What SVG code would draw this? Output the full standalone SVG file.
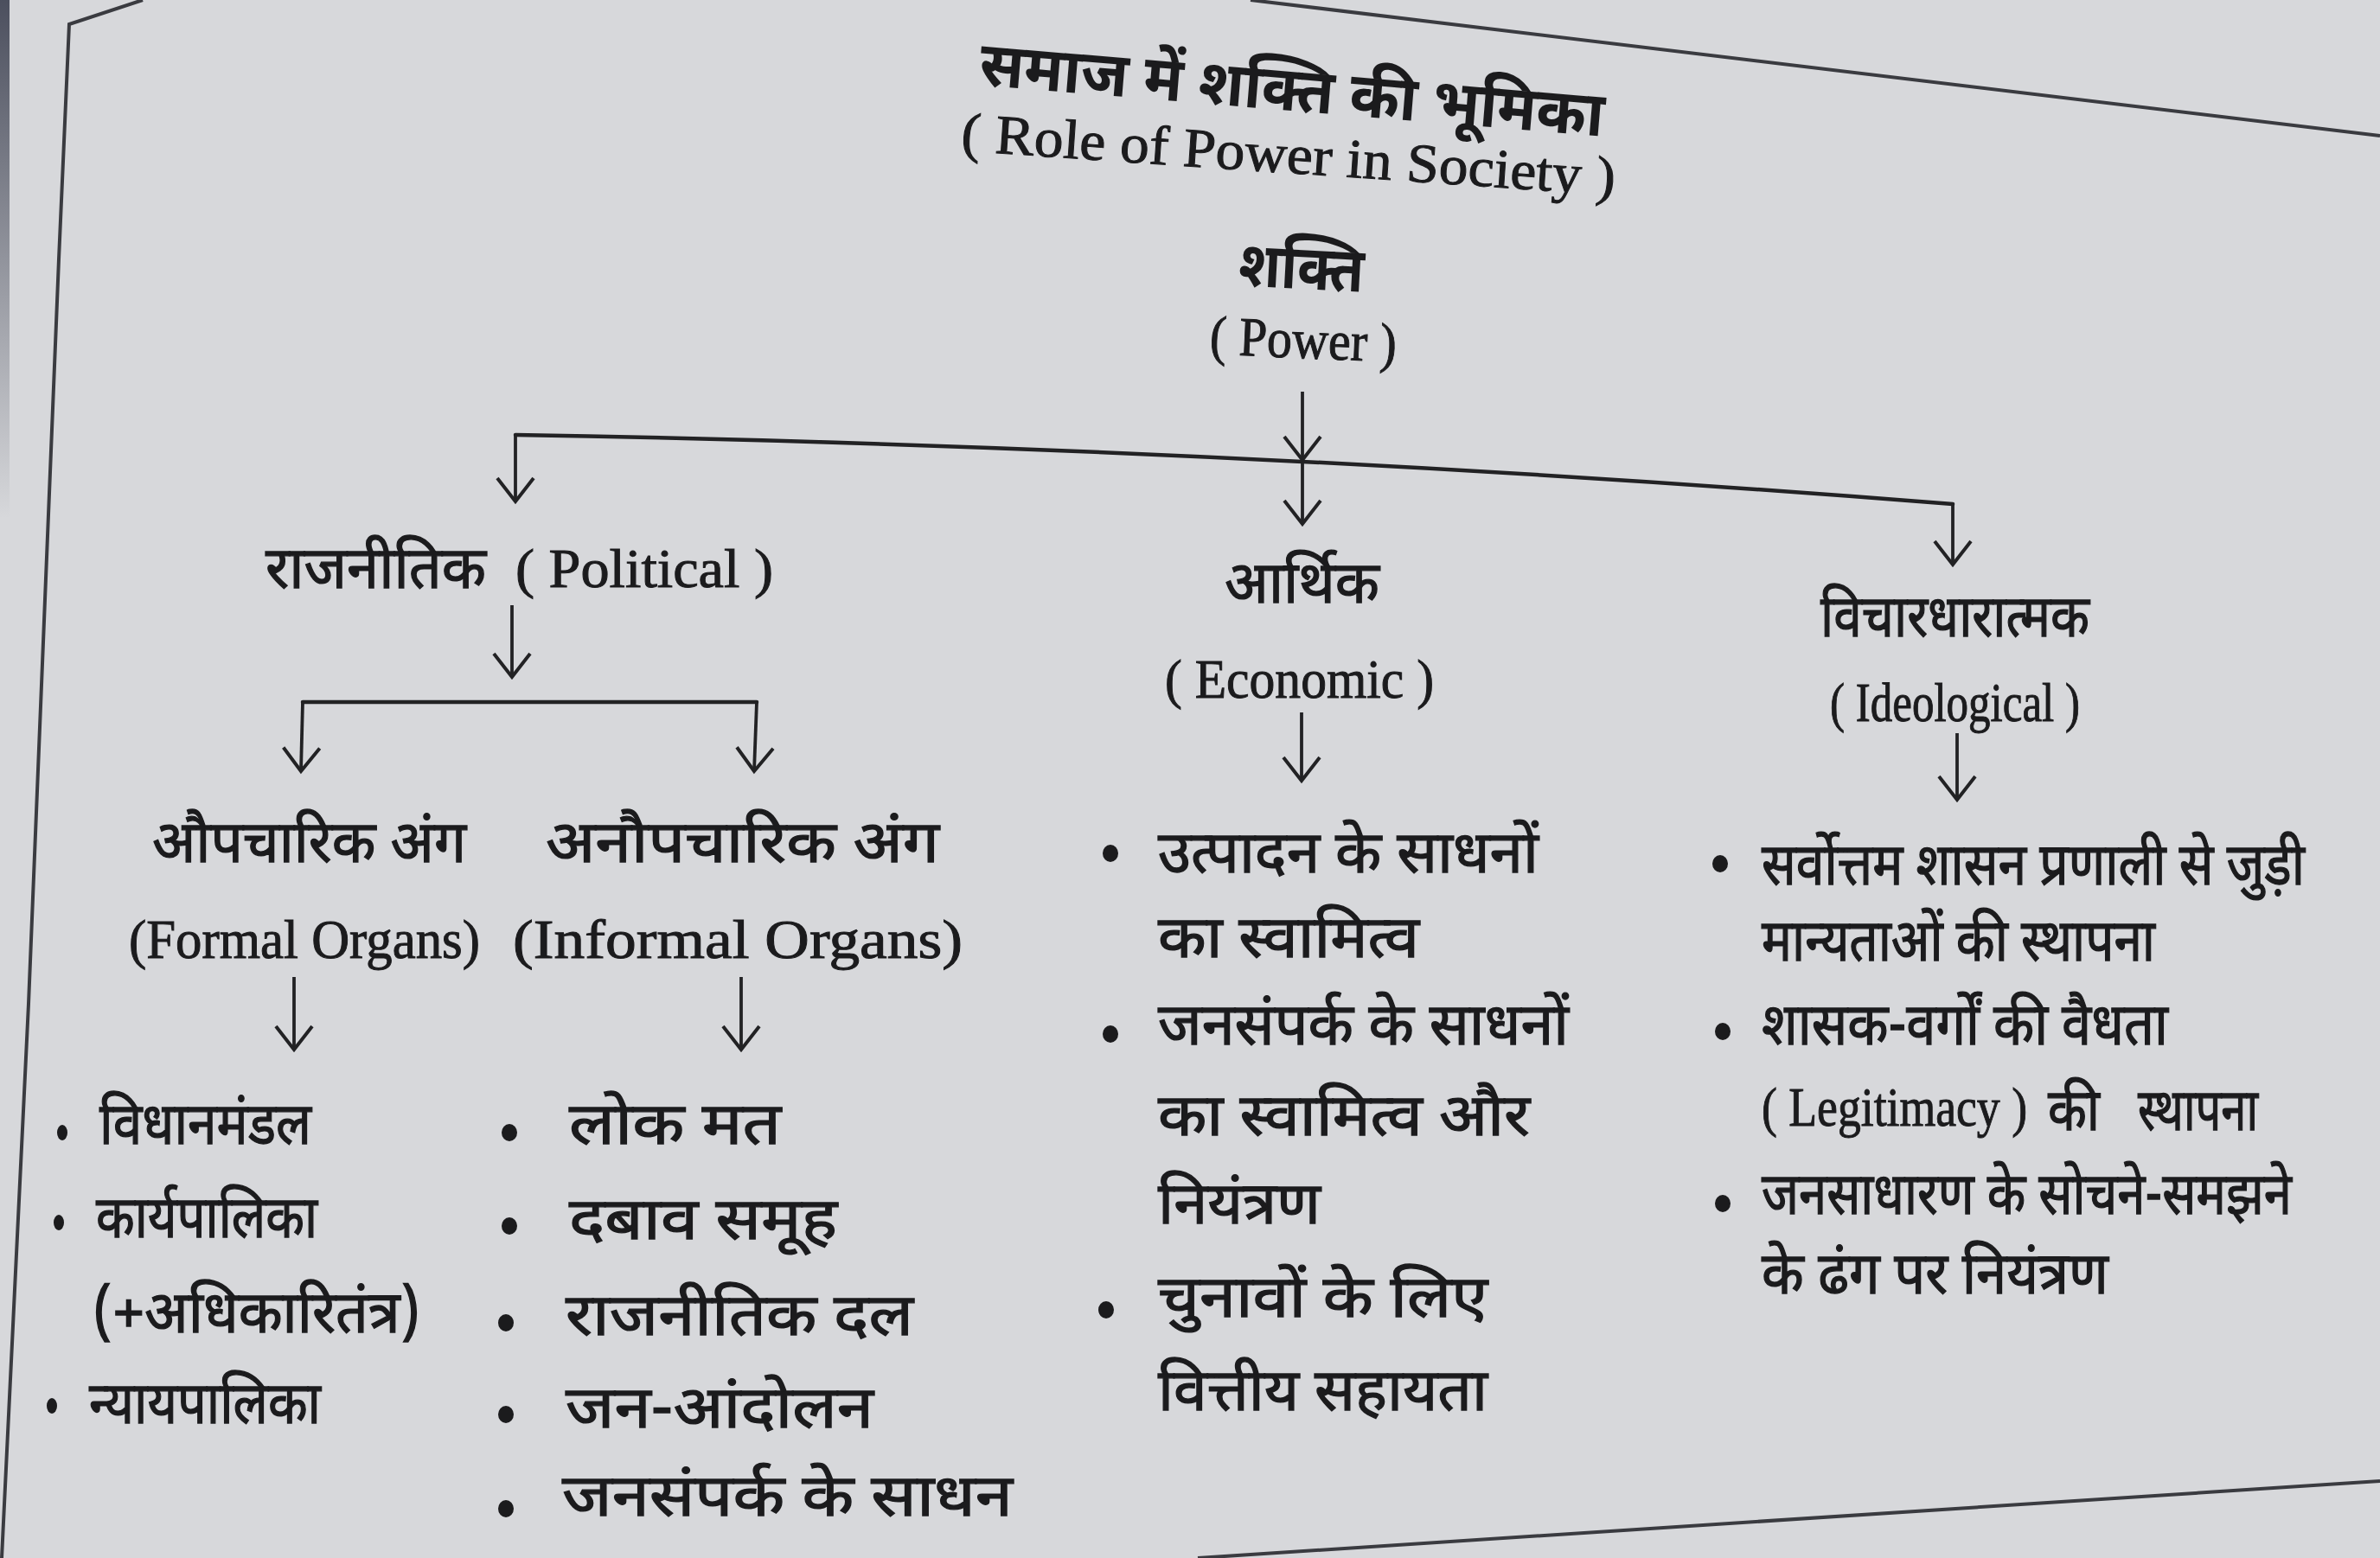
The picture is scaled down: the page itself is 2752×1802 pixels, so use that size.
<svg xmlns="http://www.w3.org/2000/svg" width="2752" height="1802" viewBox="0 0 2752 1802">
<defs>
<style>
.dv{font-family:"Noto Sans Devanagari","Lohit Devanagari","Noto Sans",sans-serif;fill:#1b1b1d;stroke:#1b1b1d;stroke-width:1.3px;font-size:68px}
.dvb{font-family:"Noto Sans Devanagari","Lohit Devanagari","Noto Sans",sans-serif;fill:#1b1b1d;font-weight:bold;font-size:72px}
.en{font-family:"Liberation Serif","Times New Roman",serif;fill:#1b1b1d;stroke:#1b1b1d;stroke-width:1px;font-size:64px}
.ln{fill:none;stroke:#222224;stroke-width:4.5;stroke-linecap:round}
.ar{fill:none;stroke:#222224;stroke-width:3.8;marker-end:url(#ah)}
.bl{fill:#1b1b1d}
.edge{fill:none;stroke:#3a3b40;stroke-width:4}
</style>
<marker id="ah" markerUnits="userSpaceOnUse" orient="auto" markerWidth="60" markerHeight="60" refX="0" refY="0" viewBox="-40 -30 50 60" overflow="visible">
<path d="M-27,-21 L0,0 L-27,21" fill="none" stroke="#222224" stroke-width="4" stroke-linejoin="miter"/>
</marker>
<linearGradient id="strip" x1="0" y1="0" x2="0" y2="1">
<stop offset="0" stop-color="#3c4050" stop-opacity="0.9"/>
<stop offset="1" stop-color="#3c4050" stop-opacity="0"/>
</linearGradient>
</defs>
<rect x="0" y="0" width="2752" height="1802" fill="#d7d8db"/>
<g id="page-edges">
<rect x="0" y="0" width="11" height="600" fill="url(#strip)"/>
<polyline class="edge" points="165,0 80,28 68,300 33,1161 2,1802" stroke-width="3" stroke="#55565c"/>
<line class="edge" x1="1446" y1="0" x2="2752" y2="157" stroke-width="5"/>
<line class="edge" x1="1385" y1="1802" x2="2752" y2="1713" stroke-width="5"/>
</g>

<g id="title">
<text class="dvb" x="1494" y="128" text-anchor="middle" textLength="724" lengthAdjust="spacingAndGlyphs" transform="rotate(4.7 1494 105)">समाज में शक्ति की भूमिका</text>
<text class="en" x="1490" y="200" text-anchor="middle" font-size="59" textLength="758" lengthAdjust="spacingAndGlyphs" transform="rotate(3.9 1490 180)">( Role of Power in Society )</text>
</g>

<g id="node-power">
<text class="dvb" x="1505" y="334" text-anchor="middle" font-size="78" textLength="145" lengthAdjust="spacingAndGlyphs" transform="rotate(3 1505 310)">शक्ति</text>
<text class="en" x="1507" y="414" text-anchor="middle" font-size="64" textLength="216" lengthAdjust="spacingAndGlyphs" transform="rotate(2.5 1507 395)">( Power )</text>
</g>

<g id="node-political">
<text class="dv" x="307" y="680" textLength="255" lengthAdjust="spacingAndGlyphs">राजनीतिक</text>
<text class="en" x="596" y="679" font-size="66" textLength="298" lengthAdjust="spacingAndGlyphs">( Political )</text>
</g>

<g id="node-economic">
<text class="dv" x="1416" y="697" font-size="64" textLength="179" lengthAdjust="spacingAndGlyphs">आर्थिक</text>
<text class="en" x="1347" y="807" font-size="66" textLength="311" lengthAdjust="spacingAndGlyphs">( Economic )</text>
</g>

<g id="node-ideological">
<text class="dv" x="2105" y="736" textLength="311" lengthAdjust="spacingAndGlyphs">विचारधारात्मक</text>
<text class="en" x="2116" y="834" font-size="66" textLength="289" lengthAdjust="spacingAndGlyphs">( Ideological )</text>
</g>

<g id="node-formal">
<text class="dv" x="176" y="997" textLength="363" lengthAdjust="spacingAndGlyphs">औपचारिक अंग</text>
<text class="en" x="149" y="1108" font-size="68" textLength="406" lengthAdjust="spacingAndGlyphs">(Formal Organs)</text>
</g>

<g id="node-informal">
<text class="dv" x="631" y="997" textLength="455" lengthAdjust="spacingAndGlyphs">अनौपचारिक अंग</text>
<text class="en" x="593" y="1108" font-size="68" textLength="520" lengthAdjust="spacingAndGlyphs">(Informal Organs)</text>
</g>

<g id="list-formal">
<ellipse class="bl" cx="72" cy="1310" rx="6" ry="9"/>
<text class="dv" x="115" y="1323" textLength="245" lengthAdjust="spacingAndGlyphs">विधानमंडल</text>
<ellipse class="bl" cx="68" cy="1414" rx="6" ry="9"/>
<text class="dv" x="111" y="1431" textLength="256" lengthAdjust="spacingAndGlyphs">कार्यपालिका</text>
<text class="dv" x="107" y="1541" textLength="379" lengthAdjust="spacingAndGlyphs">(+अधिकारितंत्र)</text>
<ellipse class="bl" cx="60" cy="1626" rx="6" ry="9"/>
<text class="dv" x="103" y="1646" textLength="268" lengthAdjust="spacingAndGlyphs">न्यायपालिका</text>
</g>

<g id="list-informal">
<ellipse class="bl" cx="589" cy="1310" rx="9" ry="10"/>
<text class="dv" x="658" y="1323" textLength="245" lengthAdjust="spacingAndGlyphs">लोक मत</text>
<ellipse class="bl" cx="589" cy="1418" rx="9" ry="10"/>
<text class="dv" x="658" y="1433" textLength="310" lengthAdjust="spacingAndGlyphs">दबाव समूह</text>
<ellipse class="bl" cx="585" cy="1530" rx="9" ry="10"/>
<text class="dv" x="654" y="1544" textLength="402" lengthAdjust="spacingAndGlyphs">राजनीतिक दल</text>
<ellipse class="bl" cx="585" cy="1636" rx="9" ry="10"/>
<text class="dv" x="654" y="1651" textLength="356" lengthAdjust="spacingAndGlyphs">जन-आंदोलन</text>
<ellipse class="bl" cx="585" cy="1745" rx="9" ry="10"/>
<text class="dv" x="650" y="1753" textLength="521" lengthAdjust="spacingAndGlyphs">जनसंपर्क के साधन</text>
</g>

<g id="list-economic">
<ellipse class="bl" cx="1284" cy="987" rx="9" ry="10"/>
<text class="dv" x="1339" y="1009" textLength="440" lengthAdjust="spacingAndGlyphs">उत्पादन के साधनों</text>
<text class="dv" x="1339" y="1107" textLength="302" lengthAdjust="spacingAndGlyphs">का स्वामित्व</text>
<ellipse class="bl" cx="1284" cy="1196" rx="9" ry="10"/>
<text class="dv" x="1339" y="1208" textLength="475" lengthAdjust="spacingAndGlyphs">जनसंपर्क के साधनों</text>
<text class="dv" x="1339" y="1313" textLength="430" lengthAdjust="spacingAndGlyphs">का स्वामित्व और</text>
<text class="dv" x="1339" y="1415" textLength="188" lengthAdjust="spacingAndGlyphs">नियंत्रण</text>
<ellipse class="bl" cx="1279" cy="1515" rx="9" ry="10"/>
<text class="dv" x="1339" y="1523" textLength="381" lengthAdjust="spacingAndGlyphs">चुनावों के लिए</text>
<text class="dv" x="1339" y="1631" textLength="381" lengthAdjust="spacingAndGlyphs">वित्तीय सहायता</text>
</g>

<g id="list-ideological">
<ellipse class="bl" cx="1989" cy="999" rx="9" ry="10"/>
<text class="dv" x="2037" y="1023" textLength="628" lengthAdjust="spacingAndGlyphs">सर्वोत्तम शासन प्रणाली से जुड़ी</text>
<text class="dv" x="2037" y="1111" textLength="455" lengthAdjust="spacingAndGlyphs">मान्यताओं की स्थापना</text>
<ellipse class="bl" cx="1992" cy="1193" rx="9" ry="10"/>
<text class="dv" x="2037" y="1208" textLength="470" lengthAdjust="spacingAndGlyphs">शासक-वर्गों की वैधता</text>
<text class="en" x="2037" y="1302" font-size="60" textLength="307" lengthAdjust="spacingAndGlyphs">( Legitimacy )</text>
<text class="dv" x="2368" y="1307" textLength="60" lengthAdjust="spacingAndGlyphs">की</text>
<text class="dv" x="2472" y="1307" textLength="139" lengthAdjust="spacingAndGlyphs">स्थापना</text>
<ellipse class="bl" cx="1992" cy="1392" rx="9" ry="10"/>
<text class="dv" x="2037" y="1404" textLength="613" lengthAdjust="spacingAndGlyphs">जनसाधारण के सोचने-समझने</text>
<text class="dv" x="2037" y="1496" textLength="401" lengthAdjust="spacingAndGlyphs">के ढंग पर नियंत्रण</text>
</g>

<g id="connectors">
<line class="ar" x1="1506" y1="453" x2="1506" y2="532"/>
<path class="ln" d="M596,503 Q1427,517 2258,583"/>
<line class="ar" x1="596" y1="503" x2="596" y2="580"/>
<line class="ar" x1="2258" y1="583" x2="2258" y2="653"/>
<line class="ar" x1="1506" y1="534" x2="1506" y2="606"/>
<line class="ar" x1="592" y1="700" x2="592" y2="783"/>
<line class="ln" x1="350" y1="812" x2="875" y2="812"/>
<line class="ar" x1="350" y1="812" x2="348" y2="892"/>
<line class="ar" x1="875" y1="812" x2="872" y2="892"/>
<line class="ar" x1="340" y1="1130" x2="340" y2="1214"/>
<line class="ar" x1="857" y1="1130" x2="857" y2="1214"/>
<line class="ar" x1="1505" y1="824" x2="1505" y2="903"/>
<line class="ar" x1="2263" y1="848" x2="2263" y2="925"/>
</g>
</svg>
